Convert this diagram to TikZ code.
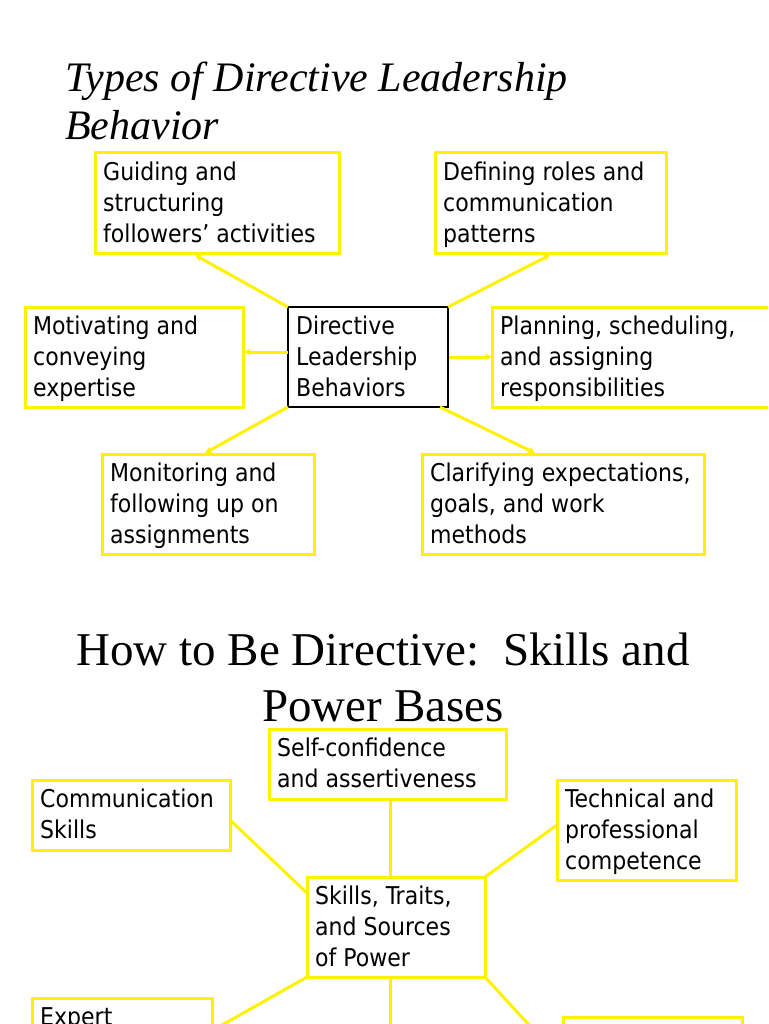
\documentclass[tikz,border=0pt]{standalone}
\usepackage{fontspec}
\usetikzlibrary{arrows.meta}
\setmainfont{Liberation Serif}
\newfontfamily\boxfont{DejaVu Sans Condensed}
\begin{document}
\begin{tikzpicture}[x=1pt,y=-1pt,
  bx/.style={draw=yellow,line width=3pt,fill=white},
  cbx/.style={draw=black,line width=2.5pt,fill=white},
  ln/.style={draw=yellow,line width=3pt},
  ar/.style={draw=yellow,line width=3pt,-{Stealth[length=7pt,width=7pt]}},
  tx/.style={anchor=north west,align=left,font=\boxfont\fontsize{24.5}{31}\selectfont,inner sep=0pt}]
\useasboundingbox (0,0) rectangle (768,1024);
\clip (0,0) rectangle (768,1024);
\node[anchor=base west,font=\itshape\fontsize{42}{48}\selectfont,inner sep=0pt] (t1) at (65,92) {Types of Directive Leadership};
\node[anchor=base west,font=\itshape\fontsize{42}{48}\selectfont,inner sep=0pt] (t2) at (65,140) {Behavior};
\node[anchor=base,font=\fontsize{47}{54}\selectfont,inner sep=0pt] (h1) at (383,665) {How to Be Directive:\ \ Skills and};
\node[anchor=base,font=\fontsize{47}{54}\selectfont,inner sep=0pt] (h2) at (383,721) {Power Bases};
% top diagram boxes
\path[bx] (95,153) rectangle (339,253); \coordinate (g) at (195,255);
\node[tx] (gt) at (103,162) {Guiding and\\structuring\\followers’ activities};
\path[bx] (435,153) rectangle (666,253); \coordinate (d) at (550,255);
\node[tx] (dt) at (443,162) {Defining roles and\\communication\\patterns};
\path[bx] (25,307) rectangle (243,407); \coordinate (m) at (244,352);
\node[tx] (mt) at (33,316) {Motivating and\\conveying\\expertise};
\path[cbx] (288,307) rectangle (448,407);
\node[tx] (ct) at (296,316) {Directive\\Leadership\\Behaviors};
\path[bx] (492,307) rectangle (770,407); \coordinate (p) at (492,357);
\node[tx] (pt) at (500,316) {Planning, scheduling,\\and assigning\\responsibilities};
\path[bx] (102,454) rectangle (314,554); \coordinate (mo) at (205,453);
\node[tx] (mot) at (110,463) {Monitoring and\\following up on\\assignments};
\path[bx] (422,454) rectangle (704,554); \coordinate (cl) at (535,453);
\node[tx] (clt) at (430,463) {Clarifying expectations,\\goals, and work\\methods};
\coordinate (c1) at (288,307); \coordinate (c2) at (448,307);
\coordinate (c3) at (288,352); \coordinate (c4) at (449,357);
\coordinate (c5) at (288,407); \coordinate (c6) at (440,407);
\draw[ar] (c1) -- (g); \draw[ar] (c2) -- (d); \draw[ar] (c3) -- (m);
\draw[ar] (c4) -- (p); \draw[ar] (c5) -- (mo); \draw[ar] (c6) -- (cl);
% bottom diagram
\coordinate (s1) at (390,799); \coordinate (s2) at (390,877);
\coordinate (k1) at (230,820); \coordinate (k2) at (307,893);
\coordinate (q1) at (557,825); \coordinate (q2) at (485,877);
\coordinate (b1) at (307,977); \coordinate (b2) at (222,1025);
\coordinate (b3) at (390,977); \coordinate (b4) at (390,1026);
\coordinate (b5) at (485,977); \coordinate (b6) at (530,1026);
\draw[ln] (s1) -- (s2); \draw[ln] (k1) -- (k2); \draw[ln] (q1) -- (q2);
\draw[ln] (b1) -- (b2); \draw[ln] (b3) -- (b4); \draw[ln] (b5) -- (b6);
\path[bx] (269,729) rectangle (506,799);
\node[tx] (st) at (277,738) {Self-confidence\\and assertiveness};
\path[bx] (32,780) rectangle (230,850);
\node[tx] (cmt) at (40,789) {Communication\\Skills};
\path[bx] (557,780) rectangle (736,880);
\node[tx] (tt) at (565,789) {Technical and\\professional\\competence};
\path[bx] (307,877) rectangle (485,977);
\node[tx] (c2t) at (315,886) {Skills, Traits,\\and Sources\\of Power};
\path[bx] (32,998) rectangle (212,1040);
\node[tx] (et) at (40,1007) {Expert};
\path[bx] (563,1017) rectangle (742,1040);
\end{tikzpicture}
\end{document}
